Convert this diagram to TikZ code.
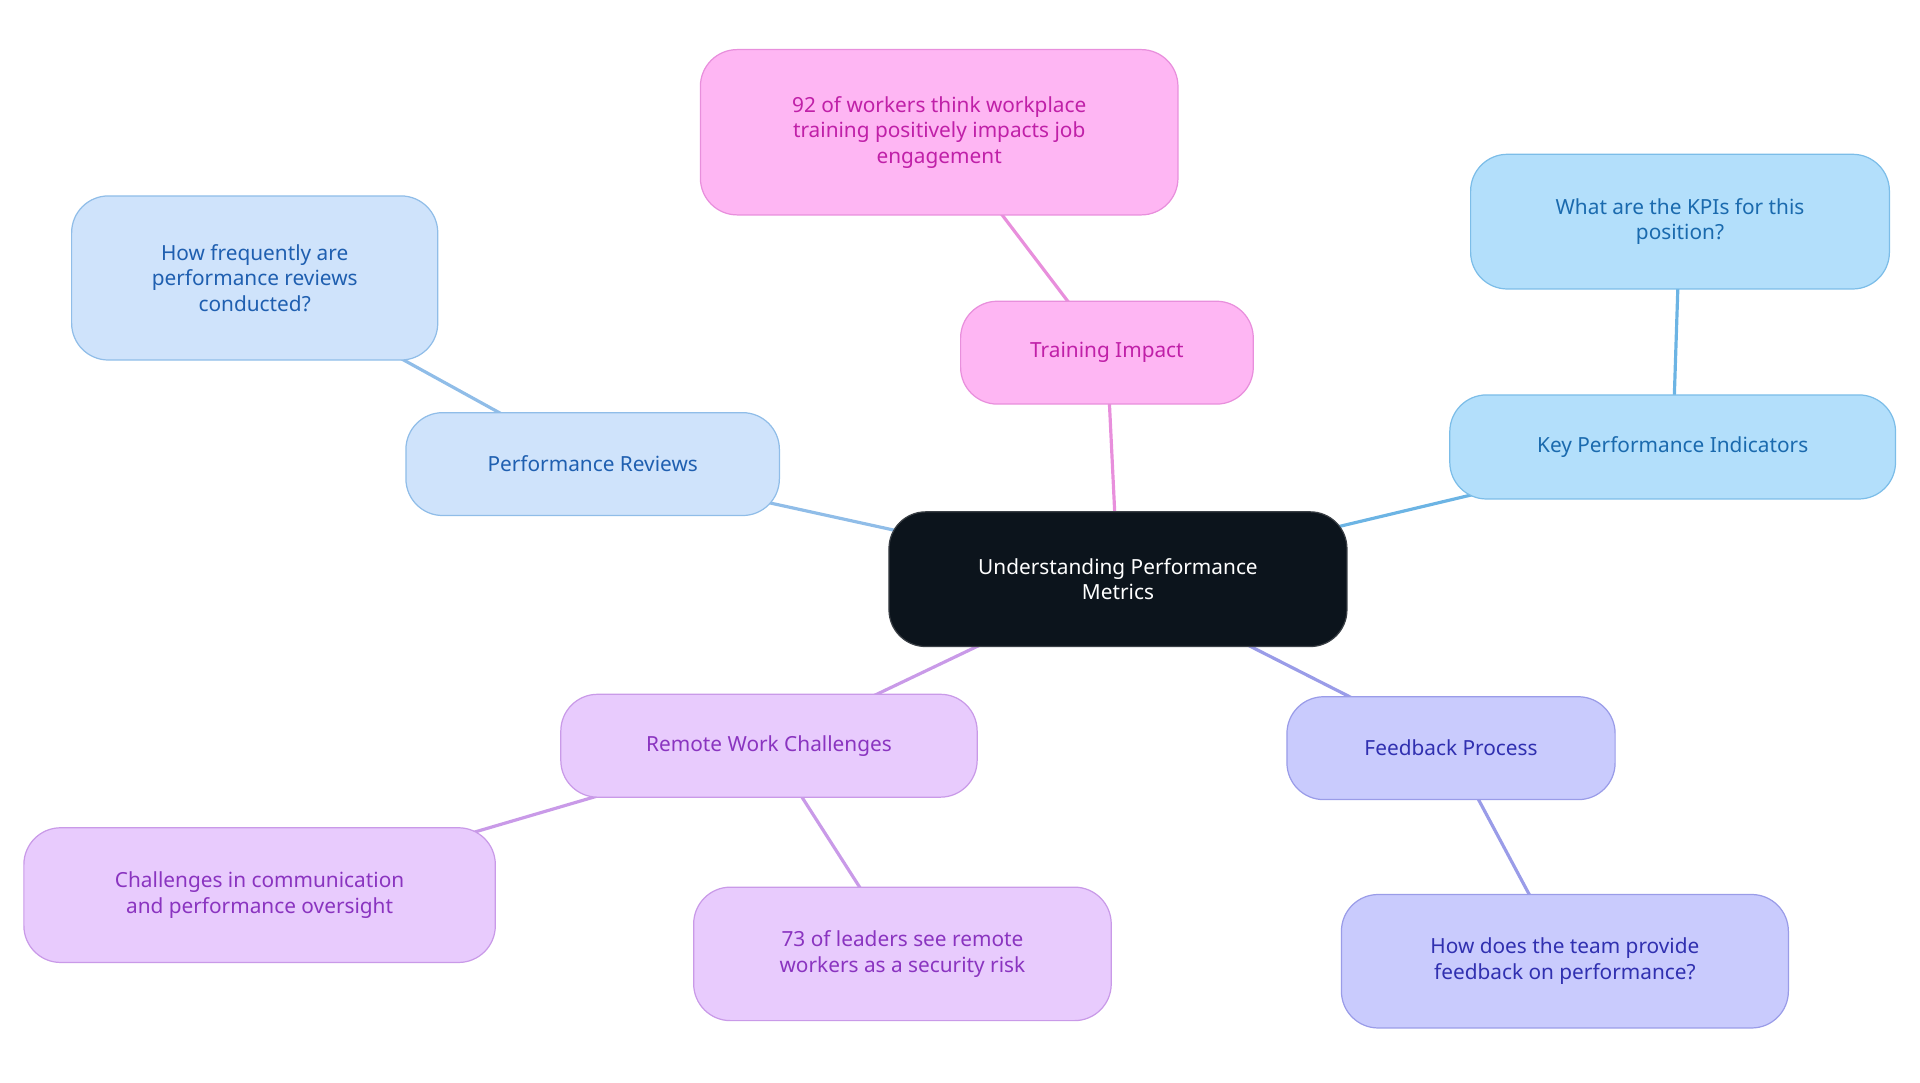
\documentclass[tikz,border=0pt]{standalone}
\usepackage{fontspec}
\setmainfont{Noto Sans}
\begin{document}
\begin{tikzpicture}[x=1pt,y=-1pt,
 box/.style={rounded corners=30pt,line width=1pt,align=center,inner sep=0pt,font=\fontsize{17}{21}\selectfont},
 b/.style={box,fill=#1F,draw=#1D,text=#1T},
 ln/.style={line width=2.6pt,draw=#1L}]
\definecolor{cF}{HTML}{0C141C}\definecolor{cD}{HTML}{3A3F45}\definecolor{cT}{HTML}{FFFFFF}
\definecolor{prF}{HTML}{CFE3FB}\definecolor{prD}{HTML}{90BDE8}\definecolor{prT}{HTML}{1F5FB0}\definecolor{prL}{HTML}{90BDE8}
\definecolor{tiF}{HTML}{FEB6F3}\definecolor{tiD}{HTML}{E88FDC}\definecolor{tiT}{HTML}{C020A8}\definecolor{tiL}{HTML}{E88FDC}
\definecolor{kF}{HTML}{B3DFFB}\definecolor{kD}{HTML}{7CBDE8}\definecolor{kT}{HTML}{1A6AAE}\definecolor{kL}{HTML}{6CB4E4}
\definecolor{fF}{HTML}{C9CBFD}\definecolor{fD}{HTML}{9A9CE8}\definecolor{fT}{HTML}{3030B0}\definecolor{fL}{HTML}{9A9CE8}
\definecolor{rF}{HTML}{E8CBFD}\definecolor{rD}{HTML}{C99AE8}\definecolor{rT}{HTML}{8A34C0}\definecolor{rL}{HTML}{C99AE8}
\useasboundingbox (0,0) rectangle (1568,884);
\coordinate (cc) at (913,473);
\coordinate (pr) at (484,379);
\coordinate (prc) at (208,227);
\coordinate (ti) at (904,288);
\coordinate (tic) at (767,108);
\coordinate (k) at (1366,365);
\coordinate (kc) at (1372,181);
\coordinate (f) at (1185,611);
\coordinate (fc) at (1278,785);
\coordinate (r) at (628,609);
\coordinate (rc1) at (212,731);
\coordinate (rc2) at (737,779);
\draw[ln=pr] (cc)--(pr) (pr)--(prc);
\draw[ln=ti] (cc)--(ti) (ti)--(tic);
\draw[ln=k] (cc)--(k) (k)--(kc);
\draw[ln=f] (cc)--(f) (f)--(fc);
\draw[ln=r] (cc)--(r) (r)--(rc1) (r)--(rc2);
\node[b=c,minimum width=374pt,minimum height=110pt] (C) at (cc) {Understanding Performance\\Metrics};
\node[b=pr,minimum width=305pt,minimum height=84pt] (PR) at (pr) {Performance Reviews};
\node[b=pr,minimum width=299pt,minimum height=134pt] (PRC) at (prc) {How frequently are\\performance reviews\\conducted?};
\node[b=ti,minimum width=239pt,minimum height=84pt] (TI) at (ti) {Training Impact};
\node[b=ti,minimum width=390pt,minimum height=135pt] (TIC) at (tic) {92 of workers think workplace\\training positively impacts job\\engagement};
\node[b=k,minimum width=364pt,minimum height=85pt] (K) at (k) {Key Performance Indicators};
\node[b=k,minimum width=342pt,minimum height=110pt] (KC) at (kc) {What are the KPIs for this\\position?};
\node[b=f,minimum width=268pt,minimum height=84pt] (F) at (f) {Feedback Process};
\node[b=f,minimum width=365pt,minimum height=109pt] (FC) at (fc) {How does the team provide\\feedback on performance?};
\node[b=r,minimum width=340pt,minimum height=84pt] (R) at (r) {Remote Work Challenges};
\node[b=r,minimum width=385pt,minimum height=110pt] (RC1) at (rc1) {Challenges in communication\\and performance oversight};
\node[b=r,minimum width=341pt,minimum height=109pt] (RC2) at (rc2) {73 of leaders see remote\\workers as a security risk};
\end{tikzpicture}
\end{document}
